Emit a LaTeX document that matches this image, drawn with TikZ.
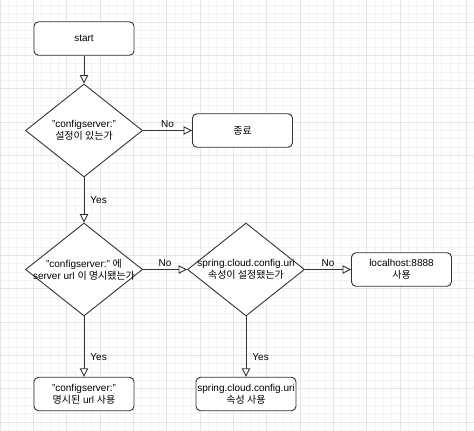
\documentclass[tikz,border=0pt]{standalone}
\usepackage{fontspec}
\setmainfont{Liberation Sans}
\newfontfamily\krfont{Noto Sans CJK KR}
\newcommand{\kr}[1]{{\krfont #1}}
\usetikzlibrary{shapes.geometric,arrows.meta}
\tikzset{
  box/.style={draw=black!80, line width=0.9pt, rounded corners=4.5pt, fill=white,
    minimum width=100pt, minimum height=33.5pt, inner sep=0pt},
  dia/.style={draw=black!80, line width=0.9pt, shape=diamond, fill=white,
    minimum width=117pt, minimum height=93pt, inner sep=0pt},
  txt/.style={align=center, font=\fontsize{10pt}{12pt}\selectfont, inner sep=0pt},
  lbl/.style={font=\fontsize{10pt}{12pt}\selectfont, inner sep=1pt},
  conn/.style={draw=black!80, line width=0.9pt,
    -{Triangle[open, length=8.5pt, width=8.5pt, fill=white]}},
  gminor/.style={draw=black!5, line width=0.5pt},
  gmajor/.style={draw=black!10, line width=0.7pt}
}
\begin{document}
\begin{tikzpicture}[x=1pt, y=-1pt]
\useasboundingbox (0,0) rectangle (474,431);
\fill[white] (0,0) rectangle (474,431);
% grid
\foreach \i in {0,...,57} {
  \draw[gminor] ({\i*8.333},0) -- ({\i*8.333},431);
}
\foreach \i in {0,...,52} {
  \draw[gminor] (0,{5.33+\i*8.333}) -- (474,{5.33+\i*8.333});
}
\foreach \i in {0,...,14} {
  \draw[gmajor] ({\i*33.333},0) -- ({\i*33.333},431);
}
\foreach \i in {-1,...,12} {
  \draw[gmajor] (0,{22+\i*33.333}) -- (474,{22+\i*33.333});
}
% nodes
\node[box] (start) at (84,38.5) {};
\node[txt] at (start) {start};
\node[dia] (d1) at (84,130.5) {};
\node[txt] at (d1) {"configserver:"\\\kr{설정이 있는가}};
\node[box] (end) at (242.5,130.5) {};
\node[txt] at (end) {\kr{종료}};
\node[dia] (d2) at (84,269.5) {};
\node[txt] at (d2) {"configserver:" \kr{에}\\server url \kr{이 명시됐는가}};
\node[box] (b1) at (84,394) {};
\node[txt] at (b1) {"configserver:"\\\kr{명시된} url \kr{사용}};
\node[dia] (d3) at (246,269.5) {};
\node[txt] at (d3) {spring.cloud.config.uri\\\kr{속성이 설정됐는가}};
\node[box] (b2) at (246,394) {};
\node[txt] at (b2) {spring.cloud.config.uri\\\kr{속성 사용}};
\node[box] (b3) at (401.5,269.5) {};
\node[txt] at (b3) {localhost:8888\\\kr{사용}};
% connectors
\draw[conn] (start) -- (d1);
\draw[conn] (d1) -- node[lbl, above=1pt] {No} (end);
\draw[conn] (d1) -- node[lbl, right=5pt] {Yes} (d2);
\draw[conn] (d2) -- node[lbl, above=1pt] {No} (d3);
\draw[conn] (d2) -- node[lbl, right=5pt, pos=0.67] {Yes} (b1);
\draw[conn] (d3) -- node[lbl, above=1pt] {No} (b3);
\draw[conn] (d3) -- node[lbl, right=5pt, pos=0.67] {Yes} (b2);
\end{tikzpicture}
\end{document}
